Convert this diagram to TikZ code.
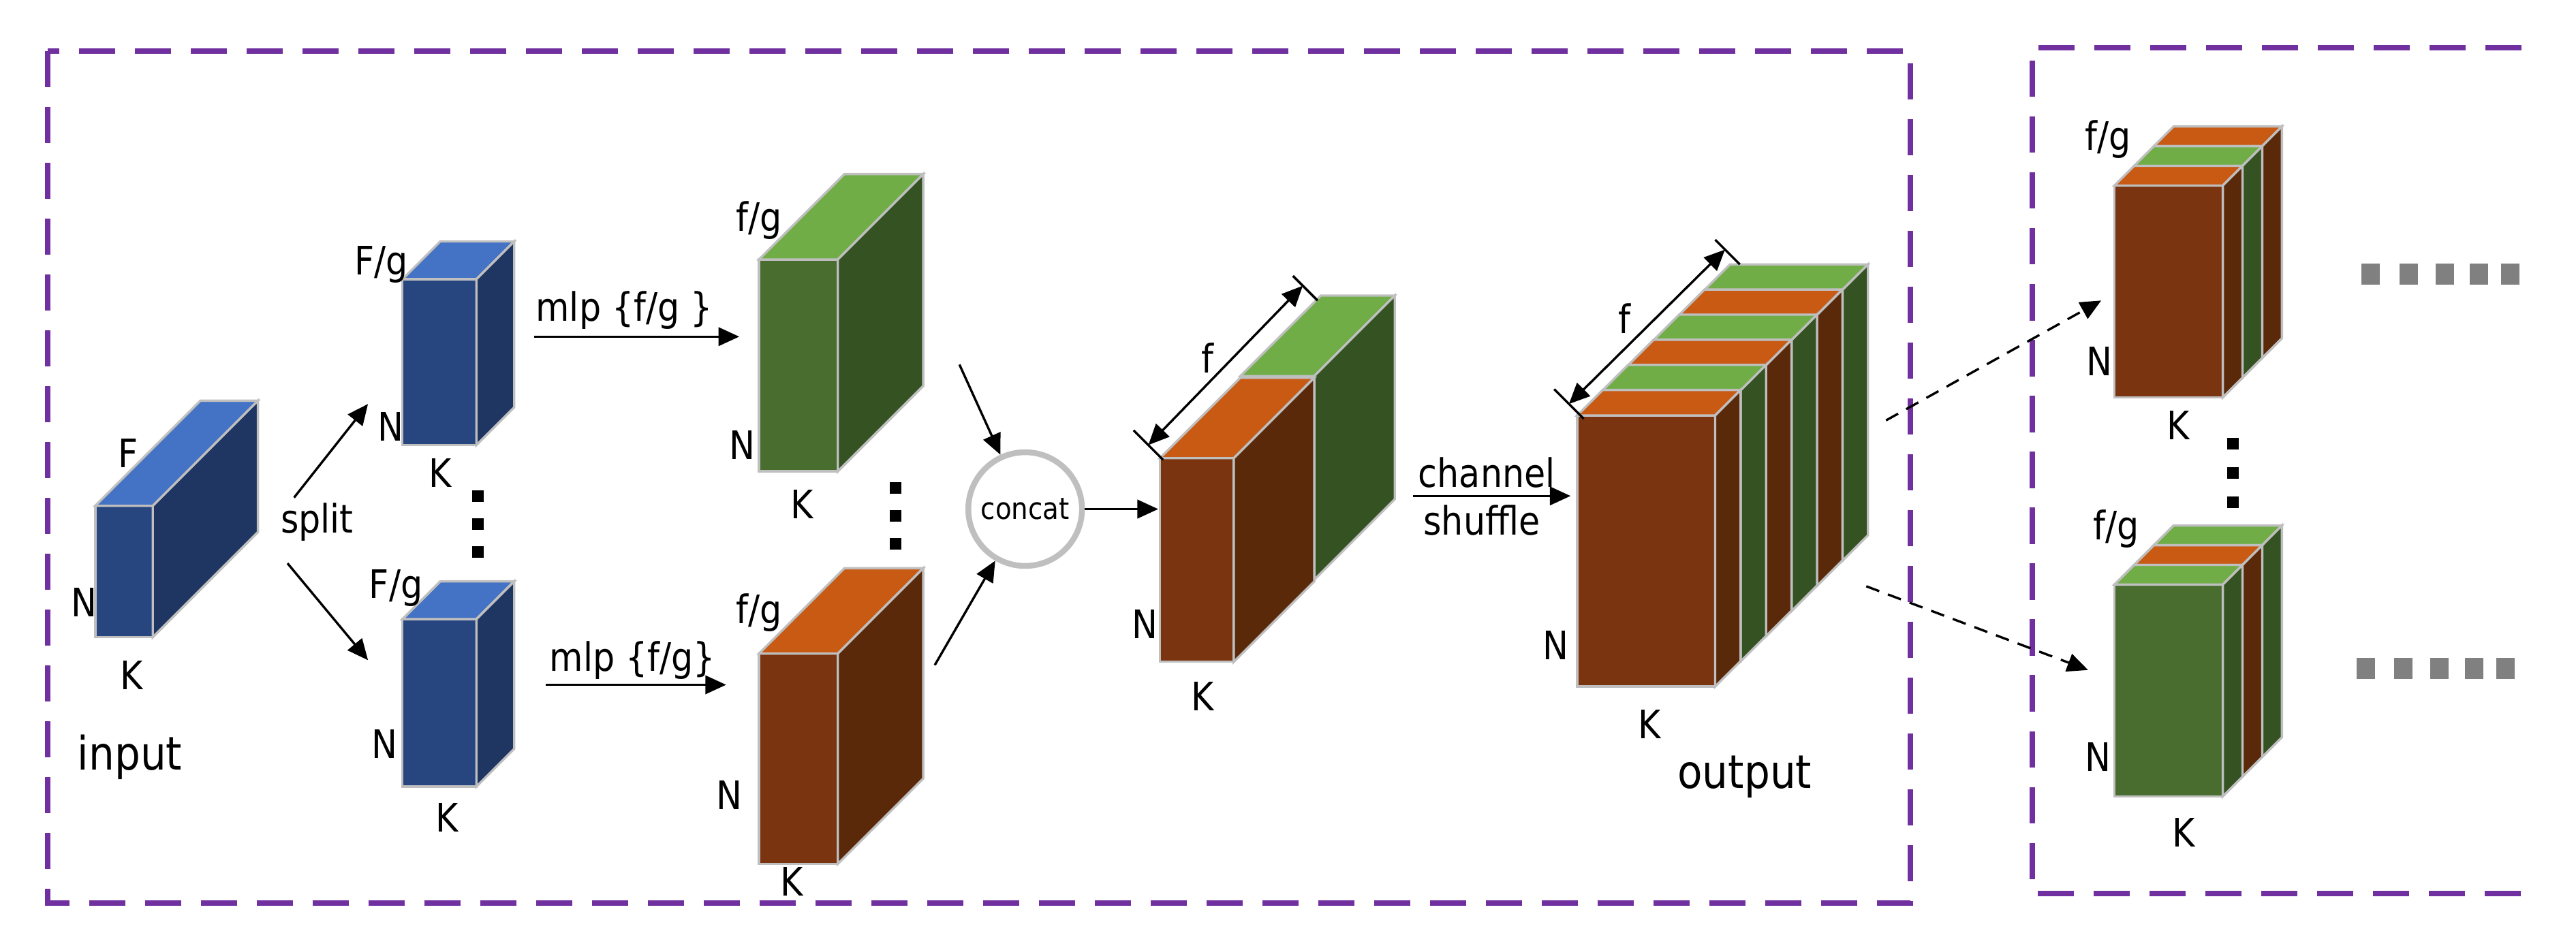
\documentclass[tikz,border=0pt]{standalone}
\usepackage{fontspec}
\setmainfont{DejaVu Sans}[FakeStretch=0.88]
\usetikzlibrary{arrows.meta,calc}
\definecolor{pur}{HTML}{7030A0}
\definecolor{edge}{HTML}{BFBFBF}
\definecolor{bF}{HTML}{27467F}\definecolor{bT}{HTML}{4472C4}\definecolor{bS}{HTML}{1F3562}
\definecolor{gF}{HTML}{486D2E}\definecolor{gT}{HTML}{70AD47}\definecolor{gS}{HTML}{355322}
\definecolor{oF}{HTML}{7A3410}\definecolor{oT}{HTML}{C85A14}\definecolor{oS}{HTML}{5A290A}
\newcommand\mycube[8]{%
 \filldraw[fill=#6,draw=edge] (#1,#2) rectangle ({#1+#3},{#2+#4});
 \filldraw[fill=#7,draw=edge] (#1,#2) -- ++(#5,-#5) -- ++(#3,0) -- ({#1+#3},#2) -- cycle;
 \filldraw[fill=#8,draw=edge] ({#1+#3},#2) -- ++(#5,-#5) -- ++(0,#4) -- ({#1+#3},{#2+#4}) -- cycle;}
\begin{document}
\begin{tikzpicture}[x=0.025cm,y=-0.025cm,line width=1pt,
  lab/.style={font=\fontsize{17}{19}\selectfont,inner sep=0pt},
  box/.style={pur,line width=2.4pt,dash pattern=on 0.55cm off 0.3cm},
  arr/.style={-{Triangle[length=9pt,width=8pt]},line width=1pt},
  darr/.style={arr,dash pattern=on 6pt off 4pt},
  dot/.style={fill=black,minimum size=5pt,inner sep=0pt},
  gdot/.style={fill=gray,minimum width=8pt,minimum height=9pt,inner sep=0pt}]
\useasboundingbox (0,0) rectangle (1568,577);
\draw[box] (29,31) rectangle (1163,550);
\draw[box] (1535,29) -- (1237,29) -- (1237,544) -- (1535,544);
% cubes
\mycube{58}{308}{35}{80}{64}{bF}{bT}{bS}
\mycube{245}{170}{45}{101}{23}{bF}{bT}{bS}
\mycube{245}{377}{45}{102}{23}{bF}{bT}{bS}
\mycube{462}{158}{48}{129}{52}{gF}{gT}{gS}
\mycube{462}{398}{48}{128}{52}{oF}{oT}{oS}
\mycube{755}{229}{45}{124}{49}{gF}{gT}{gS}
\mycube{706}{279}{45}{124}{49}{oF}{oT}{oS}
\foreach \i in {5,...,0}{
  \pgfmathtruncatemacro\odd{mod(\i,2)}
  \ifnum\odd=1 \mycube{960+15.5*\i}{253-15.3*\i}{84}{165}{15.5}{gF}{gT}{gS}
  \else \mycube{960+15.5*\i}{253-15.3*\i}{84}{165}{15.5}{oF}{oT}{oS}\fi}
\mycube{1311}{89}{66}{129}{12}{oF}{oT}{oS}
\mycube{1299}{101}{66}{129}{12}{gF}{gT}{gS}
\mycube{1287}{113}{66}{129}{12}{oF}{oT}{oS}
\mycube{1311}{332}{66}{129}{12}{gF}{gT}{gS}
\mycube{1299}{344}{66}{129}{12}{oF}{oT}{oS}
\mycube{1287}{356}{66}{129}{12}{gF}{gT}{gS}
% concat
\node[draw=edge,line width=2.5pt,circle,minimum size=1.73cm,inner sep=0pt,font=\fontsize{13}{15}\selectfont] (cc) at (624,310) {concat};
% coordinates
\coordinate (s0) at (179,303); \coordinate (s1) at (224,246);
\coordinate (s2) at (175,343); \coordinate (s3) at (224,402);
\coordinate (m0) at (325,205); \coordinate (m1) at (450,205);
\coordinate (m2) at (332,417); \coordinate (m3) at (442,417);
\coordinate (c0) at (584,222); \coordinate (c2) at (569,405);
\coordinate (c4) at (705,310);
\coordinate (f0) at (699,271); \coordinate (f1) at (793,174);
\coordinate (h0) at (860,302); \coordinate (h1) at (956,302);
\coordinate (g0) at (955,246); \coordinate (g1) at (1050,152);
\coordinate (d0) at (1148,256); \coordinate (d1) at (1279,183);
\coordinate (e0) at (1136,357); \coordinate (e1) at (1271,408);
\draw[arr] (s0) -- (s1); \draw[arr] (s2) -- (s3);
\draw[arr] (m0) -- (m1); \draw[arr] (m2) -- (m3);
\draw[arr] (c0) -- (cc); \draw[arr] (c2) -- (cc); \draw[arr] (cc) -- (c4);
\draw[{Triangle[length=9pt,width=8pt]}-{Triangle[length=9pt,width=8pt]}] (f0) -- (f1);
\draw ($(f0)+(-9,-9)$) -- ($(f0)+(9,9)$); \draw ($(f1)+(-6,-6)$) -- ($(f1)+(9,9)$);
\draw[arr] (h0) -- (h1);
\draw[{Triangle[length=9pt,width=8pt]}-{Triangle[length=9pt,width=8pt]}] (g0) -- (g1);
\draw ($(g0)+(-9,-9)$) -- ($(g0)+(9,9)$); \draw ($(g1)+(-6,-6)$) -- ($(g1)+(9,9)$);
\draw[darr] (d0) -- (d1); \draw[darr] (e0) -- (e1);
% dots
\foreach \y [count=\k] in {302,319,336}{\node[dot] (da\k) at (291,\y) {};}
\foreach \y [count=\k] in {297,314,331}{\node[dot] (db\k) at (545,\y) {};}
\foreach \y [count=\k] in {270,288,306}{\node[dot] (dc\k) at (1359,\y) {};}
\foreach \x [count=\k] in {1443,1466,1488,1509,1528}{\node[gdot] (ga\k) at (\x,167) {}; \node[gdot] (gb\k) at (\x-3,407) {};}
% labels
\node[lab] (l1) at (78,276) {F}; \node[lab] (l2) at (51,367) {N}; \node[lab] (l3) at (80,411) {K};
\node[lab,font=\fontsize{20}{22}\selectfont] (l4) at (79,461) {input};
\node[lab] (l5) at (193,318) {split};
\node[lab] (l6) at (232,161) {F/g}; \node[lab] (l7) at (238,260) {N}; \node[lab] (l8) at (268,288) {K};
\node[lab] (l9) at (241,358) {F/g}; \node[lab] (l10) at (234,453) {N}; \node[lab] (l11) at (272,498) {K};
\node[lab] (l12) at (380,189) {mlp \{f/g \}}; \node[lab] (l13) at (385,402) {mlp \{f/g\}};
\node[lab] (l14) at (462,134) {f/g}; \node[lab] (l15) at (452,271) {N}; \node[lab] (l16) at (488,307) {K};
\node[lab] (l17) at (462,373) {f/g}; \node[lab] (l18) at (444,484) {N}; \node[lab] (l19) at (482,537) {K};
\node[lab] (l20) at (735,218) {f}; \node[lab] (l21) at (697,380) {N}; \node[lab] (l22) at (732,424) {K};
\node[lab] (l23) at (905,288) {channel}; \node[lab] (l24) at (902,317) {shuffle};
\node[lab] (l25) at (989,194) {f}; \node[lab] (l26) at (947,393) {N}; \node[lab] (l27) at (1004,441) {K};
\node[lab,font=\fontsize{20}{22}\selectfont] (l28) at (1062,473) {output};
\node[lab] (l29) at (1283,85) {f/g}; \node[lab] (l30) at (1278,220) {N}; \node[lab] (l31) at (1326,259) {K};
\node[lab] (l32) at (1288,322) {f/g}; \node[lab] (l33) at (1277,461) {N}; \node[lab] (l34) at (1329,507) {K};
\end{tikzpicture}
\end{document}
